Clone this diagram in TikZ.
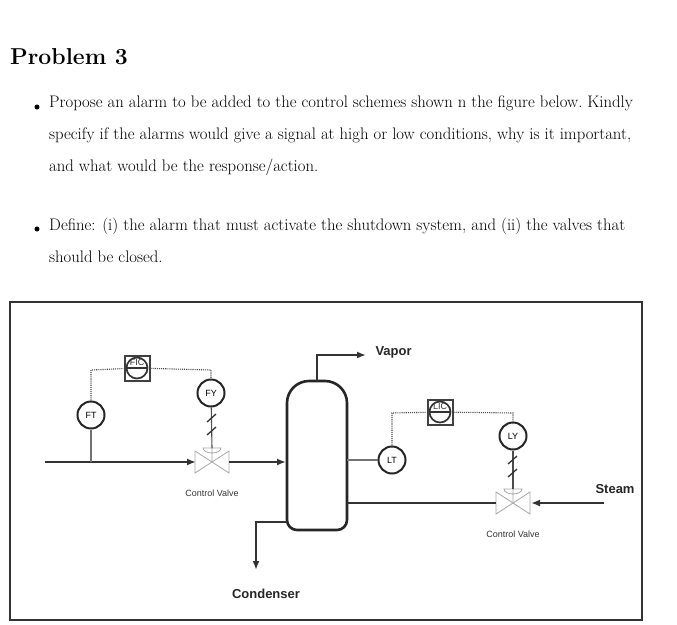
\documentclass[tikz,border=0pt]{standalone}
\usepackage{fontspec}
\newfontfamily\sfx{Liberation Sans}
\usetikzlibrary{arrows.meta}
\begin{document}
\begin{tikzpicture}[x=1pt,y=-1pt,
 pipe/.style={line width=2.6pt,draw=black!80},
 arr/.style={pipe,-{Latex[length=9pt,width=7pt]}},
 sig/.style={densely dotted,line width=1.1pt,draw=black!70},
 inst/.style={circle,draw=black!85,line width=2pt,minimum size=27pt,inner sep=0pt,font=\sfx\fontsize{9}{10}\selectfont},
 ctl/.style={draw=black!75,line width=2pt,minimum size=25pt,inner sep=0pt},
 lab/.style={font=\sfx\fontsize{9}{10}\selectfont,text=black!80},
 blab/.style={font=\sfx\bfseries\fontsize{13}{15}\selectfont,text=black!85},
 body/.style={anchor=north west,align=left,inner sep=0pt,font=\fontsize{16.7}{32}\selectfont}]
\useasboundingbox (0,0) rectangle (677,624);
\node[anchor=base west,inner sep=0pt,font=\bfseries\fontsize{23}{26}\selectfont] (title) at (10,64) {Problem 3};
\node[circle,fill=black,inner sep=0pt,minimum size=5pt] (b1) at (37,107) {};
\node[body] (t1) at (49,96) {Propose an alarm to be added to the control schemes shown n the figure below.\ Kindly\\specify if the alarms would give a signal at high or low conditions, why is it important,\\and what would be the response/action.};
\node[circle,fill=black,inner sep=0pt,minimum size=5pt] (b2) at (37,229) {};
\node[body] (t2) at (49,218) {Define: (i) the alarm that must activate the shutdown system, and (ii) the valves that\\should be closed.};
\draw[line width=1.2pt,draw=black!80] (10,302) rectangle (642,620);
% vessel
\draw[line width=2.6pt,draw=black!85] (287,470) [rounded corners=22pt] -- (287,381) -- (347,381) -- (347,470) [rounded corners=10pt] -- (347,530) -- (287,530) -- cycle;
\coordinate (vt) at (317,381);
\coordinate (v1) at (317,355);
\coordinate (vend) at (366,355);
\draw[arr] (vt) -- (v1) -- (vend);
\node[blab,anchor=west] (vap) at (372,352) {Vapor};
\coordinate (c0) at (287,522);
\coordinate (c1) at (256,522);
\coordinate (c2) at (256,570);
\draw[arr] (c0) -- (c1) -- (c2);
\node[blab,anchor=north] (cond) at (266,586) {Condenser};
% left valve
\draw[draw=black!35,line width=0.8pt] (195,451) -- (229,473) -- (229,451) -- (195,473) -- cycle;
\draw[draw=black!35,line width=0.8pt] (212,462) -- (212,448) (203,448) arc (180:0:9 and 5) -- cycle;
\coordinate (f0) at (45,462);
\coordinate (f1) at (196,462);
\coordinate (f2) at (229,462);
\coordinate (f3) at (286,462);
\draw[arr] (f0) -- (f1);
\draw[arr] (f2) -- (f3);
\node[lab] (cv1) at (212,493) {Control Valve};
\node[inst] (FT) at (91,415) {FT};
\draw[draw=black!55,line width=1.1pt] (FT) -- (91,462);
\node[inst] (FY) at (211,393) {FY};
\node[ctl] (FIC) at (137,368) {};
\draw[line width=1.7pt,draw=black!80] (FIC.center) circle (10.5pt);
\draw[line width=1.6pt,draw=black!80] (126,368) -- (148,368);
\node[font=\sfx\fontsize{9}{9}\selectfont,text=black!80] (ficl) at (137,362.5) {FIC};
\draw[sig] (FT) -- (91,370) -- (FIC);
\draw[sig] (FIC) -- (211,370) -- (FY);
\draw[draw=black!70,line width=1.1pt] (FY) -- (212,448);
\draw[draw=black!80,line width=1.3pt] (207,422) -- (216,414) (207,435) -- (216,427);
% right valve
\draw[draw=black!35,line width=0.8pt] (496,492) -- (530,514) -- (530,492) -- (496,514) -- cycle;
\draw[draw=black!35,line width=0.8pt] (513,503) -- (513,489) (504,489) arc (180:0:9 and 5) -- cycle;
\coordinate (s0) at (604,503);
\coordinate (s1) at (531,503);
\coordinate (r0) at (347,503);
\coordinate (r1) at (496,503);
\draw[arr] (s0) -- (s1);
\draw[pipe] (r0) -- (r1);
\node[blab,anchor=west] (steam) at (592,489) {Steam};
\node[lab] (cv2) at (513,534) {Control Valve};
\node[inst] (LT) at (392,460) {LT};
\draw[draw=black!55,line width=1.1pt] (347,460) -- (LT);
\node[inst] (LY) at (513,436) {LY};
\node[ctl] (LIC) at (440,412) {};
\draw[line width=1.7pt,draw=black!80] (LIC.center) circle (10.5pt);
\draw[line width=1.6pt,draw=black!80] (429,412) -- (451,412);
\node[font=\sfx\fontsize{9}{9}\selectfont,text=black!80] (licl) at (440,406.5) {LIC};
\draw[sig] (LT) -- (392,413) -- (LIC);
\draw[sig] (LIC) -- (513,413) -- (LY);
\draw[draw=black!70,line width=1.1pt] (LY) -- (513,489);
\draw[draw=black!80,line width=1.3pt] (508,464) -- (517,456) (508,477) -- (517,469);
\end{tikzpicture}
\end{document}
